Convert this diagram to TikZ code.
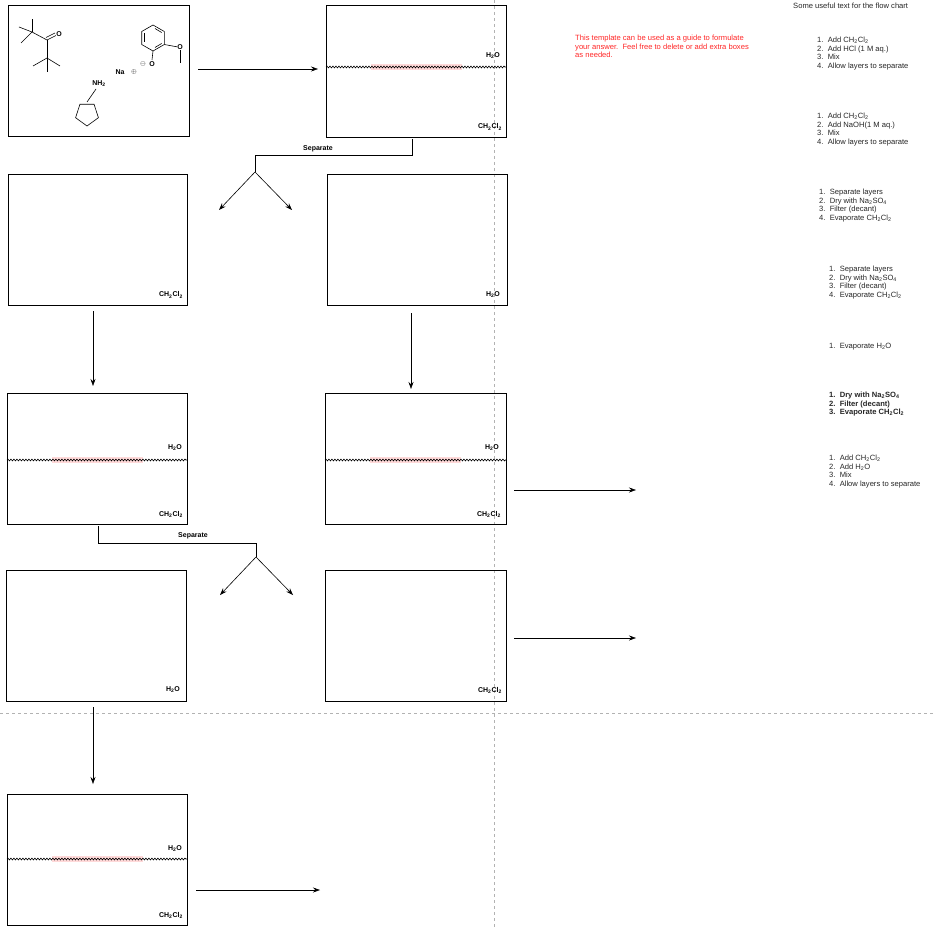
\documentclass[tikz,border=0pt]{standalone}
\usepackage{fontspec}
\setmainfont{Liberation Sans}
\usetikzlibrary{decorations.pathmorphing,arrows.meta}
\newcommand{\sbs}[1]{\textsubscript{#1}}
\begin{document}
\begin{tikzpicture}[x=1pt,y=-1pt,
  box/.style={draw,line width=0.9pt},
  lbl/.style={font=\fontsize{7}{7}\selectfont\bfseries,inner sep=0pt,anchor=east},
  txt/.style={font=\fontsize{7.6}{8.6}\selectfont,inner sep=0pt,anchor=north west,align=left,text=black!85},
  arr/.style={-{Stealth[length=7pt,width=5pt]},line width=0.6pt},
  wave/.style={decorate,decoration={snake,amplitude=0.9pt,segment length=3pt},line width=0.6pt},
  bond/.style={line width=0.6pt},
  atom/.style={font=\fontsize{7}{7}\selectfont\bfseries,inner sep=0.5pt,fill=white}]
\useasboundingbox (0,0) rectangle (933,928);
% guide lines
\draw[gray!60,dashed,line width=0.4pt] (0,713) -- (933,713);
\draw[gray!60,dashed,line width=0.4pt] (494,0) -- (494,928);
% boxes
\draw[box] (8,5) rectangle (189,136);
\draw[box] (326,5) rectangle (506,137);
\draw[box] (8,174) rectangle (187,305);
\draw[box] (327,174) rectangle (507,305);
\draw[box] (7,393) rectangle (187,524);
\draw[box] (325,393) rectangle (506,524);
\draw[box] (6,570) rectangle (186,701);
\draw[box] (325,570) rectangle (506,701);
\draw[box] (7,794) rectangle (187,925);
% wavy interfaces
\foreach \xa/\xb/\y/\ha/\hb in {326/506/67/371/462, 7/187/460/52/143, 325/506/460/370/461, 7/187/859/52/143}{
  \fill[red!15] (\ha,\y-3) rectangle (\hb,\y+3);
  \draw[wave] (\xa,\y) -- (\xb,\y);
}
% labels
\node[lbl] (l1) at (500,56) {H\sbs{2}O};
\node[lbl] (l2) at (502,127) {CH\sbs{2}Cl\sbs{2}};
\node[lbl] (l3) at (183,295) {CH\sbs{2}Cl\sbs{2}};
\node[lbl] (l4) at (500,295) {H\sbs{2}O};
\node[lbl] (l5) at (182,448) {H\sbs{2}O};
\node[lbl] (l6) at (183,514) {CH\sbs{2}Cl\sbs{2}};
\node[lbl] (l7) at (499,448) {H\sbs{2}O};
\node[lbl] (l8) at (501,514) {CH\sbs{2}Cl\sbs{2}};
\node[lbl] (l9) at (180,690) {H\sbs{2}O};
\node[lbl] (l10) at (502,690) {CH\sbs{2}Cl\sbs{2}};
\node[lbl] (l11) at (182,849) {H\sbs{2}O};
\node[lbl] (l12) at (183,915) {CH\sbs{2}Cl\sbs{2}};
% arrows
\coordinate (a1) at (198,69); \coordinate (b1) at (318,69);
\draw[arr] (a1) -- (b1);
\coordinate (a2) at (93,311); \coordinate (b2) at (93,386);
\draw[arr] (a2) -- (b2);
\coordinate (a3) at (411,313); \coordinate (b3) at (411,389);
\draw[arr] (a3) -- (b3);
\coordinate (a4) at (514,490); \coordinate (b4) at (636,490);
\draw[arr] (a4) -- (b4);
\coordinate (a5) at (514,638); \coordinate (b5) at (636,638);
\draw[arr] (a5) -- (b5);
\coordinate (a6) at (93,707); \coordinate (b6) at (93,784);
\draw[arr] (a6) -- (b6);
\coordinate (a7) at (196,890); \coordinate (b7) at (320,890);
\draw[arr] (a7) -- (b7);
% separate 1
\coordinate (s1) at (412,139); \coordinate (s2) at (255,172);
\draw[line width=0.6pt] (s1) -- (412,155) -- (255,155) -- (s2);
\coordinate (s3) at (219,210); \coordinate (s4) at (292,210);
\draw[arr] (s2) -- (s3); \draw[arr] (s2) -- (s4);
\node[lbl,anchor=center] (sep1) at (318,149) {Separate};
% separate 2
\coordinate (t1) at (98,526); \coordinate (t2) at (256,557);
\draw[line width=0.6pt] (t1) -- (98,543) -- (256,543) -- (t2);
\coordinate (t3) at (220,595); \coordinate (t4) at (293,595);
\draw[arr] (t2) -- (t3); \draw[arr] (t2) -- (t4);
\node[lbl,anchor=center] (sep2) at (193,536) {Separate};
% molecules: ketone
\draw[bond] (19,27)--(32,32)--(21,43); \draw[bond] (32,32)--(32,19); \draw[bond] (32,32)--(47,40);
\draw[bond] (47,40)--(47,58); \draw[bond] (33,66)--(47,58)--(60,66); \draw[bond] (47,58)--(47,72);
\draw[bond] (47,40)--(56,35.5); \draw[bond] (46,37.5)--(55,33);
\node[atom] (o1) at (59,34) {O};
% guaiacolate
\begin{scope}[shift={(153,38)}]
\draw[bond] (0,-13)--(11.3,-6.5)--(11.3,6.5)--(0,13)--(-11.3,6.5)--(-11.3,-6.5)--cycle;
\draw[bond] (2,-9.5)--(8.6,-5.5); \draw[bond] (8.6,5.5)--(2,9.5); \draw[bond] (-8.3,-4.5)--(-8.3,4.5);
\end{scope}
\draw[bond] (164.3,44.5)--(178,47);
\draw[bond] (153,51)--(152,60);
\node[atom] (o2) at (180,47) {O};
\draw[bond] (o2.south) -- (180,63);
\node[atom] (o3) at (152,64) {O};
\node[inner sep=0pt,font=\fontsize{6}{6}\selectfont] (m1) at (143,64) {$\ominus$};
\node[atom] (na) at (120,72) {Na};
\node[inner sep=0pt,font=\fontsize{6}{6}\selectfont] (p1) at (134,72) {$\oplus$};
% cyclopentylamine
\node[atom] (nh2) at (99,84) {NH\sbs{2}};
\begin{scope}[shift={(87,114)}]
\draw[bond] (90:12)--(162:12)--(234:12)--(306:12)--(18:12)--cycle;
\end{scope}
\draw[bond] (87,102)--(96,89);
% right texts
\node[txt,text=red!85] (red) at (575,35) {This template can be used as a guide to formulate\\your answer.\ \ Feel free to delete or add extra boxes\\as needed.};
\node[txt] (h) at (793,3) {Some useful text for the flow chart};
\node[txt] (r1) at (817,37) {1.\ \ Add CH\sbs{2}Cl\sbs{2}\\2.\ \ Add HCl (1 M aq.)\\3.\ \ Mix\\4.\ \ Allow layers to separate};
\node[txt] (r2) at (817,113) {1.\ \ Add CH\sbs{2}Cl\sbs{2}\\2.\ \ Add NaOH(1 M aq.)\\3.\ \ Mix\\4.\ \ Allow layers to separate};
\node[txt] (r3) at (819,189) {1.\ \ Separate layers\\2.\ \ Dry with Na\sbs{2}SO\sbs{4}\\3.\ \ Filter (decant)\\4.\ \ Evaporate CH\sbs{2}Cl\sbs{2}};
\node[txt] (r4) at (829,266) {1.\ \ Separate layers\\2.\ \ Dry with Na\sbs{2}SO\sbs{4}\\3.\ \ Filter (decant)\\4.\ \ Evaporate CH\sbs{2}Cl\sbs{2}};
\node[txt] (r5) at (829,343) {1.\ \ Evaporate H\sbs{2}O};
\node[txt,font=\fontsize{7.6}{8.6}\selectfont\bfseries] (r6) at (829,392) {1.\ \ Dry with Na\sbs{2}SO\sbs{4}\\2.\ \ Filter (decant)\\3.\ \ Evaporate CH\sbs{2}Cl\sbs{2}};
\node[txt] (r7) at (829,455) {1.\ \ Add CH\sbs{2}Cl\sbs{2}\\2.\ \ Add H\sbs{2}O\\3.\ \ Mix\\4.\ \ Allow layers to separate};
\end{tikzpicture}
\end{document}
